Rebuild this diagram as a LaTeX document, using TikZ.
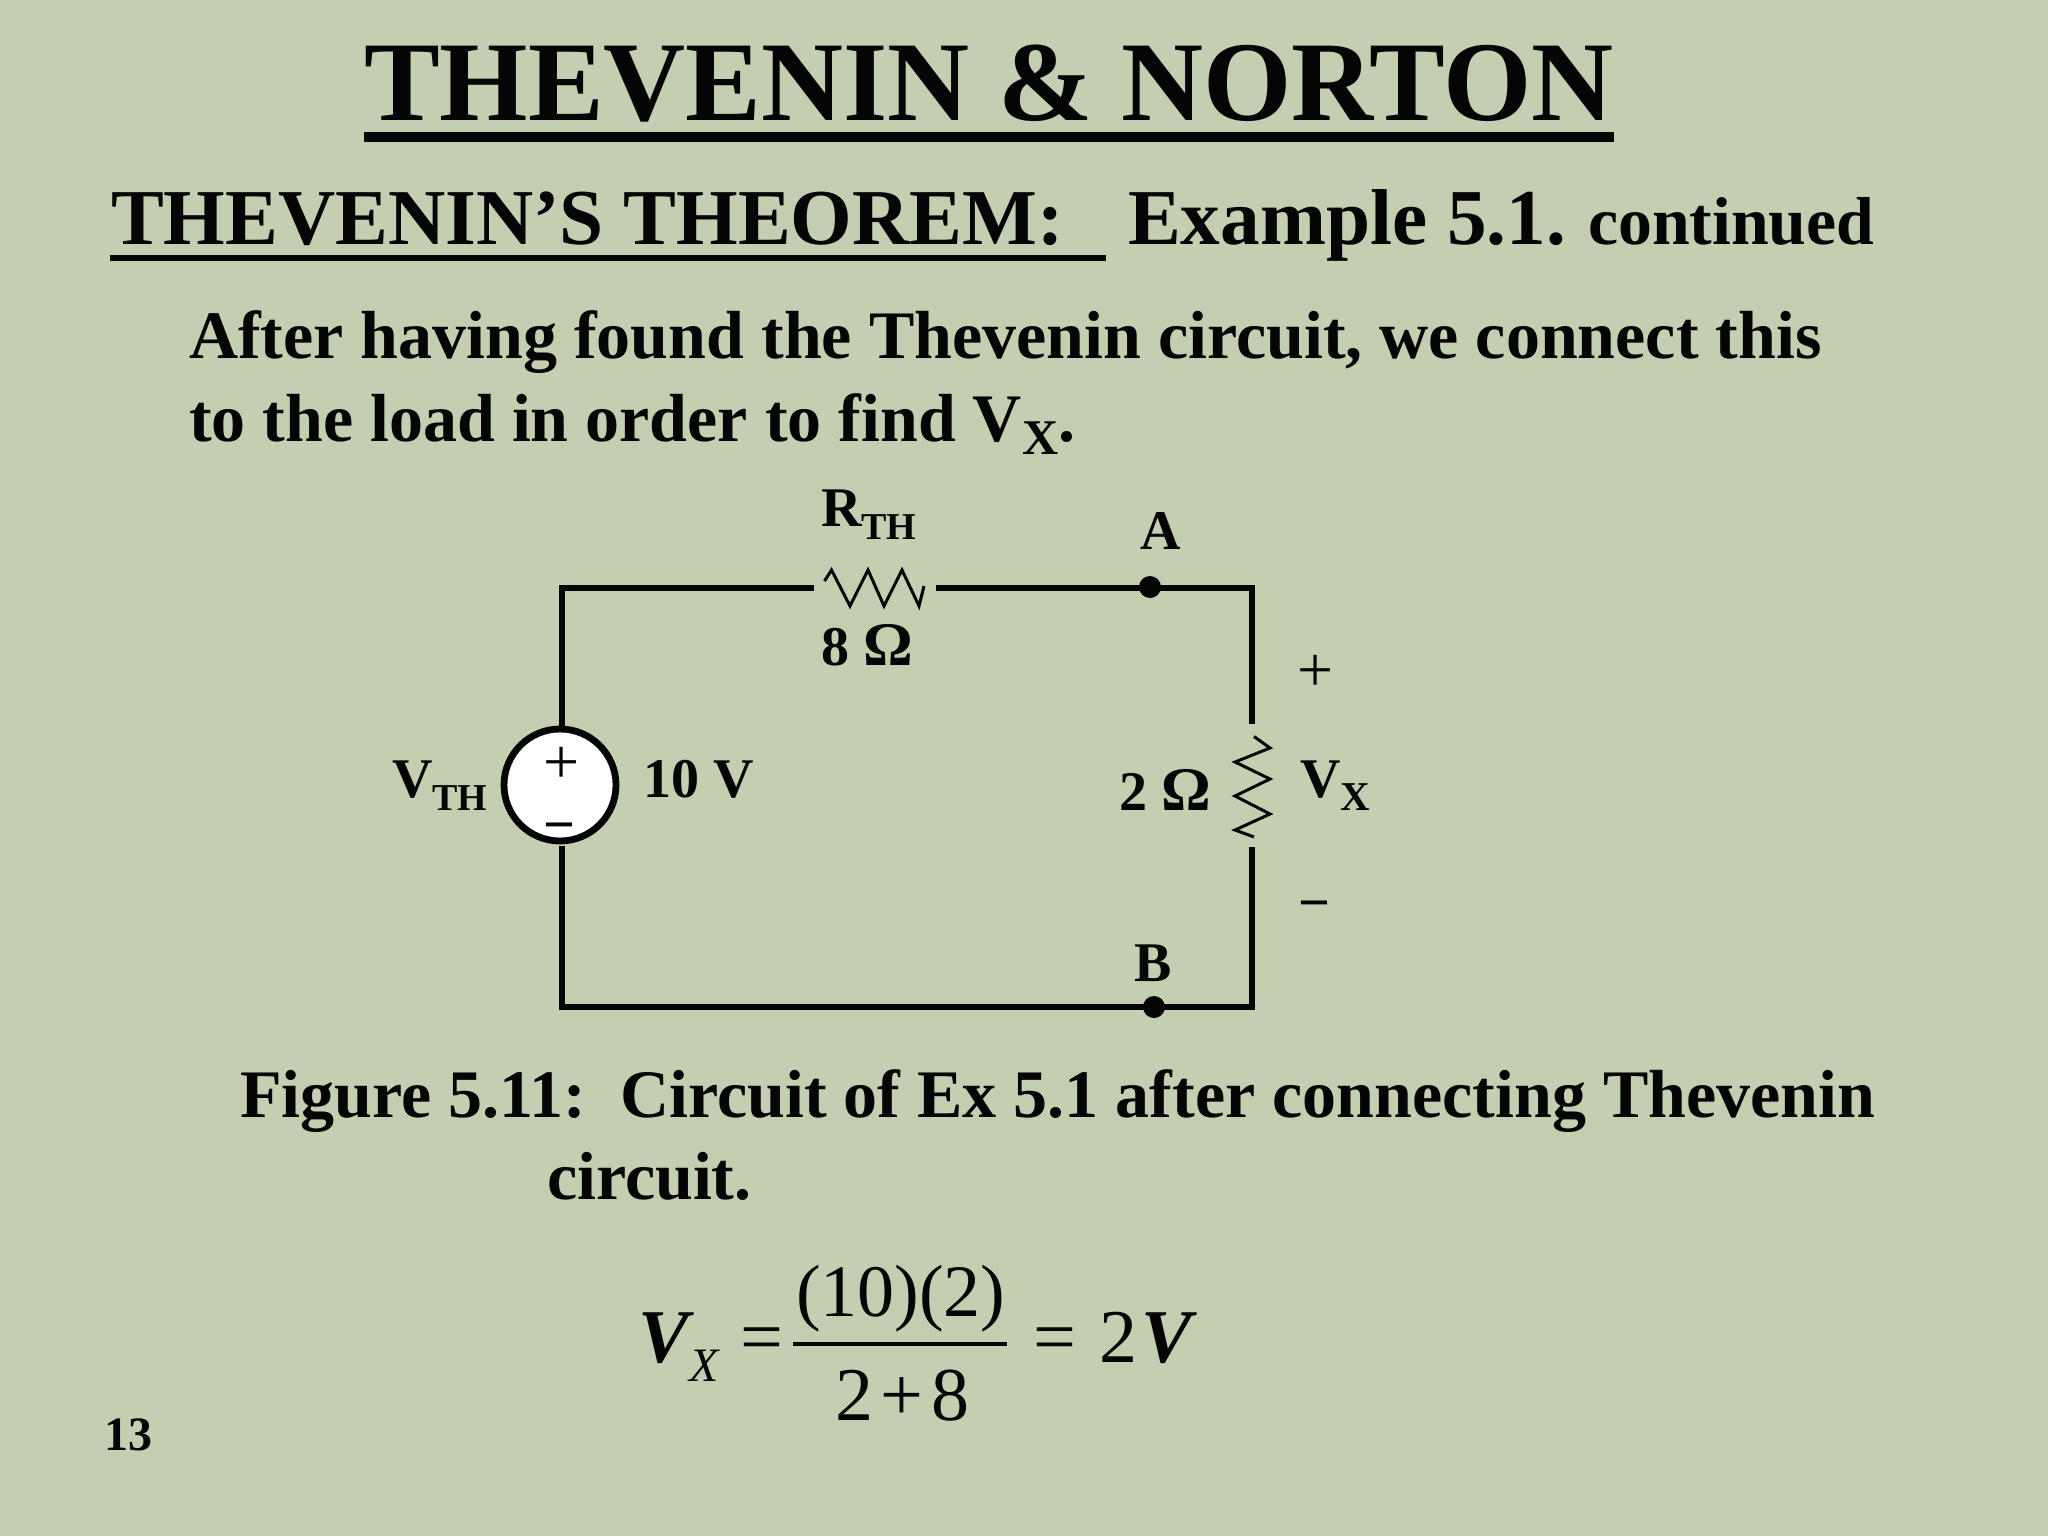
\documentclass[tikz,border=0pt]{standalone}
\usepackage{fontspec}
\setmainfont{Liberation Serif}
\newcommand{\fs}[1]{\fontsize{#1}{#1}\selectfont}
\newcommand{\subb}[2]{\raisebox{-6.5pt}{\fs{#1}#2}}
\definecolor{bgcol}{HTML}{C3CFB0}
\definecolor{ink}{HTML}{050505}
\tikzset{
  x=0.5pt,y=-0.5pt,
  txt/.style={anchor=base west,inner sep=0pt,outer sep=0pt,text=ink,font=\bfseries},
  ctr/.style={anchor=base,inner sep=0pt,outer sep=0pt,text=ink},
  wire/.style={draw=ink,line width=2.8pt,line cap=butt,line join=miter},
  zig/.style={draw=ink,line width=1.5pt,line join=miter},
  dotnode/.style={circle,fill=ink,inner sep=0pt,minimum size=11pt},
  rule/.style={draw=ink,line width=5pt},
  rulethin/.style={draw=ink,line width=3pt},
  eqn/.style={anchor=base west,inner sep=0pt,outer sep=0pt,text=ink}
}
\begin{document}
\begin{tikzpicture}
\fill[bgcol] (0,0) rectangle (2048,1536);
\useasboundingbox (0,0) rectangle (2048,1536);
% Headings
\node[txt] (title) at (364,120) {\fs{56.8}THEVENIN \& NORTON};
\draw[rule] (364,136.5) -- (1614,136.5);
\node[txt] (sub) at (111,244) {\fs{39.6}THEVENIN’S THEOREM:};
\draw[rulethin] (110,258) -- (1106,258);
\node[txt] (ex) at (1128,244) {\fs{39.6}Example 5.1.};
\node[txt] (cont) at (1588,244) {\fs{33.9}continued};
% Paragraph
\node[txt] (p1) at (189,358) {\fs{34}After having found the Thevenin circuit, we connect this};
\node[txt] (p2) at (189,441) {\fs{34}to the load in order to find V\subb{25}{X}.};
% Circuit
\coordinate (tl) at (562,588);
\coordinate (tr) at (1252,588);
\coordinate (bl) at (562,1007);
\coordinate (br) at (1252,1007);
\node[circle,draw=ink,fill=white,line width=3.4pt,minimum size=56pt,inner sep=0pt] (src) at (560,785) {};
\coordinate (srcT) at (562,726);
\coordinate (srcB) at (562,846);
\coordinate (r1L) at (814,588);
\coordinate (r1R) at (936,588);
\coordinate (r2T) at (1252,724);
\coordinate (r2B) at (1252,847);
\draw[wire] (srcT) -- (tl) -- (r1L);
\draw[wire] (r1R) -- (tr) -- (r2T);
\draw[wire] (r2B) -- (br) -- (bl) -- (srcB);
\draw[zig] (824.5,581) -- (831.5,570) -- (850,606) -- (868,570) -- (884,606) -- (902,570) -- (919,606) -- (924,586);
\draw[zig] (1254,736.5) -- (1270,748) -- (1235,762) -- (1270,779) -- (1235,796) -- (1270,814) -- (1235,830) -- (1254,837);
\node[dotnode] (dA) at (1150,587) {};
\node[dotnode] (dB) at (1154,1007) {};
% Circuit labels
\node[txt] (lA) at (1140,549) {\fs{28}A};
\node[txt] (lB) at (1134,981) {\fs{28}B};
\node[txt] (lR) at (821,526) {\fs{28}R\subb{19}{TH}};
\node[txt] (l8) at (821,665) {\fs{28}8 \fs{31}Ω};
\node[txt] (lV) at (392,797) {\fs{28}V\subb{19}{TH}};
\node[txt] (l10) at (643,797) {\fs{28}10 V};
\node[txt] (l2) at (1119,810) {\fs{28}2 \fs{31}Ω};
\node[txt] (lVx) at (1300,797) {\fs{28}V\subb{20.5}{X}};
\node[ctr] (pl) at (1316,691) {\fs{32}+};
\node[ctr] (mi) at (1314,921) {\fs{28}\bfseries −};
\node[ctr] (spl) at (562,783) {\fs{32}+};
\node[ctr] (smi) at (559,843) {\fs{28}\bfseries −};
% Caption
\node[txt] (f1) at (240,1117) {\fs{34}Figure 5.11:\hspace{0.5em}Circuit of Ex 5.1 after connecting Thevenin};
\node[txt] (f2) at (547,1199) {\fs{34}circuit.};
% Equation
\node[eqn] (eV) at (638,1362) {\fs{38}\bfseries\itshape V};
\node[eqn] (eX) at (689,1381) {\fs{24}\itshape X};
\node[eqn] (eq1) at (740,1362) {\fs{38}=};
\coordinate (fL) at (793,1344);
\coordinate (fR) at (1007,1344);
\draw[draw=ink,line width=1.7pt] (fL) -- (fR);
\node[eqn] (num) at (796,1316) {\fs{37}(10)(2)};
\node[eqn] (den) at (835,1420) {\fs{38}2\hspace{0.1em}+\hspace{0.1em}8};
\node[eqn] (eq2) at (1033,1362) {\fs{38}=};
\node[eqn] (two) at (1099,1362) {\fs{38}2};
\node[eqn] (vv) at (1141,1362) {\fs{38}\bfseries\itshape V};
\node[txt] (pg) at (104,1450) {\fs{24}13};
\end{tikzpicture}
\end{document}
